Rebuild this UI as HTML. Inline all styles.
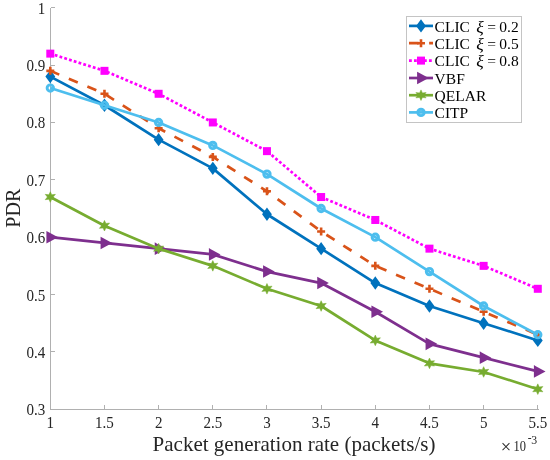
<!DOCTYPE html>
<html><head><meta charset="utf-8"><style>
html,body{margin:0;padding:0;background:#fff;}
svg{display:block;}
</style></head><body>
<svg width="550" height="460" viewBox="0 0 550 460">
<rect width="550" height="460" fill="#fff"/>
<g stroke="#b0b0b0" stroke-width="1" fill="none" shape-rendering="crispEdges">
<path d="M50.5,7.5V409.5H538.5"/>
<path d="M50.5,409.5H55"/>
<path d="M50.5,351.5H55"/>
<path d="M50.5,294.5H55"/>
<path d="M50.5,237.5H55"/>
<path d="M50.5,179.5H55"/>
<path d="M50.5,122.5H55"/>
<path d="M50.5,65.5H55"/>
<path d="M50.5,7.5H55"/>
<path d="M50.5,409.5V405"/>
<path d="M104.5,409.5V405"/>
<path d="M158.5,409.5V405"/>
<path d="M212.5,409.5V405"/>
<path d="M266.5,409.5V405"/>
<path d="M321.5,409.5V405"/>
<path d="M375.5,409.5V405"/>
<path d="M429.5,409.5V405"/>
<path d="M483.5,409.5V405"/>
<path d="M537.5,409.5V405"/>
</g>
<g font-family="Liberation Serif, serif" font-size="16" fill="#262626">
<text transform="translate(45.3,415.25) scale(0.94,1)" text-anchor="end">0.3</text>
<text transform="translate(45.3,357.89) scale(0.94,1)" text-anchor="end">0.4</text>
<text transform="translate(45.3,300.54) scale(0.94,1)" text-anchor="end">0.5</text>
<text transform="translate(45.3,243.18) scale(0.94,1)" text-anchor="end">0.6</text>
<text transform="translate(45.3,185.82) scale(0.94,1)" text-anchor="end">0.7</text>
<text transform="translate(45.3,128.46) scale(0.94,1)" text-anchor="end">0.8</text>
<text transform="translate(45.3,71.11) scale(0.94,1)" text-anchor="end">0.9</text>
<text transform="translate(45.3,13.75) scale(0.94,1)" text-anchor="end">1</text>
<text transform="translate(50.30,428.3) scale(0.94,1)" text-anchor="middle">1</text>
<text transform="translate(104.47,428.3) scale(0.94,1)" text-anchor="middle">1.5</text>
<text transform="translate(158.63,428.3) scale(0.94,1)" text-anchor="middle">2</text>
<text transform="translate(212.80,428.3) scale(0.94,1)" text-anchor="middle">2.5</text>
<text transform="translate(266.97,428.3) scale(0.94,1)" text-anchor="middle">3</text>
<text transform="translate(321.13,428.3) scale(0.94,1)" text-anchor="middle">3.5</text>
<text transform="translate(375.30,428.3) scale(0.94,1)" text-anchor="middle">4</text>
<text transform="translate(429.47,428.3) scale(0.94,1)" text-anchor="middle">4.5</text>
<text transform="translate(483.63,428.3) scale(0.94,1)" text-anchor="middle">5</text>
<text transform="translate(537.80,428.3) scale(0.94,1)" text-anchor="middle">5.5</text>
</g>
<text font-family="Liberation Serif, serif" font-size="21" fill="#262626" x="294" y="451.3" text-anchor="middle">Packet generation rate (packets/s)</text>
<text font-family="Liberation Serif, serif" font-size="20" fill="#262626" transform="translate(19.8,208.2) rotate(-90)" text-anchor="middle">PDR</text>
<g font-family="Liberation Serif, serif" fill="#262626"><text font-size="18.5" x="500.8" y="452.7">&#215;</text><text font-size="15.2" transform="translate(513.5,451.2) scale(0.82,1)">10</text><text font-size="11.5" x="527.8" y="440.5">-</text><text font-size="11.8" x="531.2" y="443.9">3</text></g>
<polyline points="50.30,76.58 104.47,105.26 158.63,139.67 212.80,168.35 266.97,214.24 321.13,248.65 375.30,283.06 429.47,306.01 483.63,323.21 537.80,340.42" fill="none" stroke="#0072BD" stroke-width="2.7" stroke-linejoin="round"/>
<polygon points="50.30,72.08 53.60,76.58 50.30,81.08 47.00,76.58" fill="#0072BD" stroke="#0072BD" stroke-width="2.6" stroke-linejoin="miter" stroke-miterlimit="6"/>
<polygon points="104.47,100.76 107.77,105.26 104.47,109.76 101.17,105.26" fill="#0072BD" stroke="#0072BD" stroke-width="2.6" stroke-linejoin="miter" stroke-miterlimit="6"/>
<polygon points="158.63,135.17 161.93,139.67 158.63,144.17 155.33,139.67" fill="#0072BD" stroke="#0072BD" stroke-width="2.6" stroke-linejoin="miter" stroke-miterlimit="6"/>
<polygon points="212.80,163.85 216.10,168.35 212.80,172.85 209.50,168.35" fill="#0072BD" stroke="#0072BD" stroke-width="2.6" stroke-linejoin="miter" stroke-miterlimit="6"/>
<polygon points="266.97,209.74 270.27,214.24 266.97,218.74 263.67,214.24" fill="#0072BD" stroke="#0072BD" stroke-width="2.6" stroke-linejoin="miter" stroke-miterlimit="6"/>
<polygon points="321.13,244.15 324.43,248.65 321.13,253.15 317.83,248.65" fill="#0072BD" stroke="#0072BD" stroke-width="2.6" stroke-linejoin="miter" stroke-miterlimit="6"/>
<polygon points="375.30,278.56 378.60,283.06 375.30,287.56 372.00,283.06" fill="#0072BD" stroke="#0072BD" stroke-width="2.6" stroke-linejoin="miter" stroke-miterlimit="6"/>
<polygon points="429.47,301.51 432.77,306.01 429.47,310.51 426.17,306.01" fill="#0072BD" stroke="#0072BD" stroke-width="2.6" stroke-linejoin="miter" stroke-miterlimit="6"/>
<polygon points="483.63,318.71 486.93,323.21 483.63,327.71 480.33,323.21" fill="#0072BD" stroke="#0072BD" stroke-width="2.6" stroke-linejoin="miter" stroke-miterlimit="6"/>
<polygon points="537.80,335.92 541.10,340.42 537.80,344.92 534.50,340.42" fill="#0072BD" stroke="#0072BD" stroke-width="2.6" stroke-linejoin="miter" stroke-miterlimit="6"/>
<polyline points="50.30,70.84 104.47,93.79 158.63,128.20 212.80,156.88 266.97,191.29 321.13,231.44 375.30,265.86 429.47,288.80 483.63,311.74 537.80,334.69" fill="none" stroke="#D95319" stroke-width="2.7" stroke-linejoin="round" stroke-dasharray="9.7 10.43"/>
<path d="M46.30,70.84H54.30M50.30,66.84V74.84" stroke="#D95319" stroke-width="2.6" fill="none"/>
<path d="M100.47,93.79H108.47M104.47,89.79V97.79" stroke="#D95319" stroke-width="2.6" fill="none"/>
<path d="M154.63,128.20H162.63M158.63,124.20V132.20" stroke="#D95319" stroke-width="2.6" fill="none"/>
<path d="M208.80,156.88H216.80M212.80,152.88V160.88" stroke="#D95319" stroke-width="2.6" fill="none"/>
<path d="M262.97,191.29H270.97M266.97,187.29V195.29" stroke="#D95319" stroke-width="2.6" fill="none"/>
<path d="M317.13,231.44H325.13M321.13,227.44V235.44" stroke="#D95319" stroke-width="2.6" fill="none"/>
<path d="M371.30,265.86H379.30M375.30,261.86V269.86" stroke="#D95319" stroke-width="2.6" fill="none"/>
<path d="M425.47,288.80H433.47M429.47,284.80V292.80" stroke="#D95319" stroke-width="2.6" fill="none"/>
<path d="M479.63,311.74H487.63M483.63,307.74V315.74" stroke="#D95319" stroke-width="2.6" fill="none"/>
<path d="M533.80,334.69H541.80M537.80,330.69V338.69" stroke="#D95319" stroke-width="2.6" fill="none"/>
<polyline points="50.30,53.64 104.47,70.84 158.63,93.79 212.80,122.46 266.97,151.14 321.13,197.03 375.30,219.97 429.47,248.65 483.63,265.86 537.80,288.80" fill="none" stroke="#FF00FF" stroke-width="2.7" stroke-linejoin="round" stroke-dasharray="2.8 2.192" stroke-dashoffset="0.3"/>
<rect x="47.60" y="50.94" width="5.40" height="5.40" fill="#FF00FF" stroke="#FF00FF" stroke-width="2.6"/>
<rect x="101.77" y="68.14" width="5.40" height="5.40" fill="#FF00FF" stroke="#FF00FF" stroke-width="2.6"/>
<rect x="155.93" y="91.09" width="5.40" height="5.40" fill="#FF00FF" stroke="#FF00FF" stroke-width="2.6"/>
<rect x="210.10" y="119.76" width="5.40" height="5.40" fill="#FF00FF" stroke="#FF00FF" stroke-width="2.6"/>
<rect x="264.27" y="148.44" width="5.40" height="5.40" fill="#FF00FF" stroke="#FF00FF" stroke-width="2.6"/>
<rect x="318.43" y="194.33" width="5.40" height="5.40" fill="#FF00FF" stroke="#FF00FF" stroke-width="2.6"/>
<rect x="372.60" y="217.27" width="5.40" height="5.40" fill="#FF00FF" stroke="#FF00FF" stroke-width="2.6"/>
<rect x="426.77" y="245.95" width="5.40" height="5.40" fill="#FF00FF" stroke="#FF00FF" stroke-width="2.6"/>
<rect x="480.93" y="263.16" width="5.40" height="5.40" fill="#FF00FF" stroke="#FF00FF" stroke-width="2.6"/>
<rect x="535.10" y="286.10" width="5.40" height="5.40" fill="#FF00FF" stroke="#FF00FF" stroke-width="2.6"/>
<polyline points="50.30,237.18 104.47,242.91 158.63,248.65 212.80,254.39 266.97,271.59 321.13,283.06 375.30,311.74 429.47,343.86 483.63,357.63 537.80,371.39" fill="none" stroke="#7E2F8E" stroke-width="2.7" stroke-linejoin="round"/>
<polygon points="47.70,233.08 55.30,237.18 47.70,241.28" fill="#7E2F8E" stroke="#7E2F8E" stroke-width="2.6" stroke-linejoin="miter" stroke-miterlimit="6"/>
<polygon points="101.87,238.81 109.47,242.91 101.87,247.01" fill="#7E2F8E" stroke="#7E2F8E" stroke-width="2.6" stroke-linejoin="miter" stroke-miterlimit="6"/>
<polygon points="156.03,244.55 163.63,248.65 156.03,252.75" fill="#7E2F8E" stroke="#7E2F8E" stroke-width="2.6" stroke-linejoin="miter" stroke-miterlimit="6"/>
<polygon points="210.20,250.29 217.80,254.39 210.20,258.49" fill="#7E2F8E" stroke="#7E2F8E" stroke-width="2.6" stroke-linejoin="miter" stroke-miterlimit="6"/>
<polygon points="264.37,267.49 271.97,271.59 264.37,275.69" fill="#7E2F8E" stroke="#7E2F8E" stroke-width="2.6" stroke-linejoin="miter" stroke-miterlimit="6"/>
<polygon points="318.53,278.96 326.13,283.06 318.53,287.16" fill="#7E2F8E" stroke="#7E2F8E" stroke-width="2.6" stroke-linejoin="miter" stroke-miterlimit="6"/>
<polygon points="372.70,307.64 380.30,311.74 372.70,315.84" fill="#7E2F8E" stroke="#7E2F8E" stroke-width="2.6" stroke-linejoin="miter" stroke-miterlimit="6"/>
<polygon points="426.87,339.76 434.47,343.86 426.87,347.96" fill="#7E2F8E" stroke="#7E2F8E" stroke-width="2.6" stroke-linejoin="miter" stroke-miterlimit="6"/>
<polygon points="481.03,353.53 488.63,357.63 481.03,361.73" fill="#7E2F8E" stroke="#7E2F8E" stroke-width="2.6" stroke-linejoin="miter" stroke-miterlimit="6"/>
<polygon points="535.20,367.29 542.80,371.39 535.20,375.49" fill="#7E2F8E" stroke="#7E2F8E" stroke-width="2.6" stroke-linejoin="miter" stroke-miterlimit="6"/>
<polyline points="50.30,197.03 104.47,225.71 158.63,248.65 212.80,265.86 266.97,288.80 321.13,306.01 375.30,340.42 429.47,363.36 483.63,371.97 537.80,389.17" fill="none" stroke="#77AC30" stroke-width="2.7" stroke-linejoin="round"/>
<polygon points="50.30,191.72 51.75,194.77 55.41,194.37 53.20,197.03 55.41,199.68 51.75,199.29 50.30,202.34 48.85,199.29 45.19,199.68 47.40,197.03 45.19,194.37 48.85,194.77" fill="#77AC30" stroke="#77AC30" stroke-width="0.5"/>
<polygon points="104.47,220.40 105.92,223.45 109.58,223.05 107.37,225.71 109.58,228.36 105.92,227.97 104.47,231.02 103.02,227.97 99.36,228.36 101.57,225.71 99.36,223.05 103.02,223.45" fill="#77AC30" stroke="#77AC30" stroke-width="0.5"/>
<polygon points="158.63,243.34 160.08,246.39 163.74,246.00 161.53,248.65 163.74,251.31 160.08,250.91 158.63,253.96 157.18,250.91 153.52,251.31 155.73,248.65 153.52,246.00 157.18,246.39" fill="#77AC30" stroke="#77AC30" stroke-width="0.5"/>
<polygon points="212.80,260.55 214.25,263.60 217.91,263.20 215.70,265.86 217.91,268.51 214.25,268.12 212.80,271.17 211.35,268.12 207.69,268.51 209.90,265.86 207.69,263.20 211.35,263.60" fill="#77AC30" stroke="#77AC30" stroke-width="0.5"/>
<polygon points="266.97,283.49 268.42,286.54 272.08,286.14 269.87,288.80 272.08,291.45 268.42,291.06 266.97,294.11 265.52,291.06 261.86,291.45 264.07,288.80 261.86,286.14 265.52,286.54" fill="#77AC30" stroke="#77AC30" stroke-width="0.5"/>
<polygon points="321.13,300.70 322.58,303.75 326.24,303.35 324.03,306.01 326.24,308.66 322.58,308.27 321.13,311.32 319.68,308.27 316.02,308.66 318.23,306.01 316.02,303.35 319.68,303.75" fill="#77AC30" stroke="#77AC30" stroke-width="0.5"/>
<polygon points="375.30,335.11 376.75,338.16 380.41,337.77 378.20,340.42 380.41,343.08 376.75,342.68 375.30,345.73 373.85,342.68 370.19,343.08 372.40,340.42 370.19,337.77 373.85,338.16" fill="#77AC30" stroke="#77AC30" stroke-width="0.5"/>
<polygon points="429.47,358.05 430.92,361.10 434.58,360.71 432.37,363.36 434.58,366.02 430.92,365.62 429.47,368.67 428.02,365.62 424.36,366.02 426.57,363.36 424.36,360.71 428.02,361.10" fill="#77AC30" stroke="#77AC30" stroke-width="0.5"/>
<polygon points="483.63,366.66 485.08,369.71 488.74,369.31 486.53,371.97 488.74,374.62 485.08,374.23 483.63,377.28 482.18,374.23 478.52,374.62 480.73,371.97 478.52,369.31 482.18,369.71" fill="#77AC30" stroke="#77AC30" stroke-width="0.5"/>
<polygon points="537.80,383.86 539.25,386.91 542.91,386.52 540.70,389.17 542.91,391.83 539.25,391.44 537.80,394.48 536.35,391.44 532.69,391.83 534.90,389.17 532.69,386.52 536.35,386.91" fill="#77AC30" stroke="#77AC30" stroke-width="0.5"/>
<polyline points="50.30,88.05 104.47,105.26 158.63,122.46 212.80,145.41 266.97,174.09 321.13,208.50 375.30,237.18 429.47,271.59 483.63,306.01 537.80,334.69" fill="none" stroke="#4DBEEE" stroke-width="2.7" stroke-linejoin="round"/>
<circle cx="50.30" cy="88.05" r="3.2" fill="none" stroke="#4DBEEE" stroke-width="2.9"/>
<circle cx="104.47" cy="105.26" r="3.2" fill="none" stroke="#4DBEEE" stroke-width="2.9"/>
<circle cx="158.63" cy="122.46" r="3.2" fill="none" stroke="#4DBEEE" stroke-width="2.9"/>
<circle cx="212.80" cy="145.41" r="3.2" fill="none" stroke="#4DBEEE" stroke-width="2.9"/>
<circle cx="266.97" cy="174.09" r="3.2" fill="none" stroke="#4DBEEE" stroke-width="2.9"/>
<circle cx="321.13" cy="208.50" r="3.2" fill="none" stroke="#4DBEEE" stroke-width="2.9"/>
<circle cx="375.30" cy="237.18" r="3.2" fill="none" stroke="#4DBEEE" stroke-width="2.9"/>
<circle cx="429.47" cy="271.59" r="3.2" fill="none" stroke="#4DBEEE" stroke-width="2.9"/>
<circle cx="483.63" cy="306.01" r="3.2" fill="none" stroke="#4DBEEE" stroke-width="2.9"/>
<circle cx="537.80" cy="334.69" r="3.2" fill="none" stroke="#4DBEEE" stroke-width="2.9"/>
<rect x="406.5" y="16.5" width="115.0" height="106.0" fill="#fff" stroke="#c4c4c4" stroke-width="1" shape-rendering="crispEdges"/>
<path d="M409,25.9H433" stroke="#0072BD" stroke-width="2.7" fill="none"/>
<polygon points="421.00,21.40 424.30,25.90 421.00,30.40 417.70,25.90" fill="#0072BD" stroke="#0072BD" stroke-width="2.6" stroke-linejoin="miter" stroke-miterlimit="6"/>
<text font-family="Liberation Serif, serif" font-size="15.5" fill="#000" x="434.6" y="31.70">CLIC</text>
<text font-family="Liberation Serif, serif" font-size="17.5" font-style="italic" fill="#000" x="476.2" y="32.60">&#958;</text>
<text font-family="Liberation Serif, serif" font-size="15.5" fill="#000" x="487.2" y="31.70">=</text>
<text font-family="Liberation Serif, serif" font-size="15.5" fill="#000" x="499.3" y="31.70">0.2</text>
<path d="M409,43.2H433" stroke="#D95319" stroke-width="2.7" fill="none" stroke-dasharray="9.7 10.43"/>
<path d="M417.00,43.20H425.00M421.00,39.20V47.20" stroke="#D95319" stroke-width="2.6" fill="none"/>
<text font-family="Liberation Serif, serif" font-size="15.5" fill="#000" x="434.6" y="49.00">CLIC</text>
<text font-family="Liberation Serif, serif" font-size="17.5" font-style="italic" fill="#000" x="476.2" y="49.90">&#958;</text>
<text font-family="Liberation Serif, serif" font-size="15.5" fill="#000" x="487.2" y="49.00">=</text>
<text font-family="Liberation Serif, serif" font-size="15.5" fill="#000" x="499.3" y="49.00">0.5</text>
<path d="M409,60.6H433" stroke="#FF00FF" stroke-width="2.7" fill="none" stroke-dasharray="2.8 2.192"/>
<rect x="418.30" y="57.90" width="5.40" height="5.40" fill="#FF00FF" stroke="#FF00FF" stroke-width="2.6"/>
<text font-family="Liberation Serif, serif" font-size="15.5" fill="#000" x="434.6" y="66.40">CLIC</text>
<text font-family="Liberation Serif, serif" font-size="17.5" font-style="italic" fill="#000" x="476.2" y="67.30">&#958;</text>
<text font-family="Liberation Serif, serif" font-size="15.5" fill="#000" x="487.2" y="66.40">=</text>
<text font-family="Liberation Serif, serif" font-size="15.5" fill="#000" x="499.3" y="66.40">0.8</text>
<path d="M409,78.0H433" stroke="#7E2F8E" stroke-width="2.7" fill="none"/>
<polygon points="418.40,73.90 426.00,78.00 418.40,82.10" fill="#7E2F8E" stroke="#7E2F8E" stroke-width="2.6" stroke-linejoin="miter" stroke-miterlimit="6"/>
<text font-family="Liberation Serif, serif" font-size="15.5" fill="#000" x="434.6" y="83.80">VBF</text>
<path d="M409,95.2H433" stroke="#77AC30" stroke-width="2.7" fill="none"/>
<polygon points="421.00,89.89 422.45,92.94 426.11,92.55 423.90,95.20 426.11,97.86 422.45,97.46 421.00,100.51 419.55,97.46 415.89,97.86 418.10,95.20 415.89,92.55 419.55,92.94" fill="#77AC30" stroke="#77AC30" stroke-width="0.5"/>
<text font-family="Liberation Serif, serif" font-size="15.5" fill="#000" x="434.6" y="101.00">QELAR</text>
<path d="M409,112.4H433" stroke="#4DBEEE" stroke-width="2.7" fill="none"/>
<circle cx="421.00" cy="112.40" r="3.2" fill="none" stroke="#4DBEEE" stroke-width="2.9"/>
<text font-family="Liberation Serif, serif" font-size="15.5" fill="#000" x="434.6" y="118.20">CITP</text>
</svg>
</body></html>
